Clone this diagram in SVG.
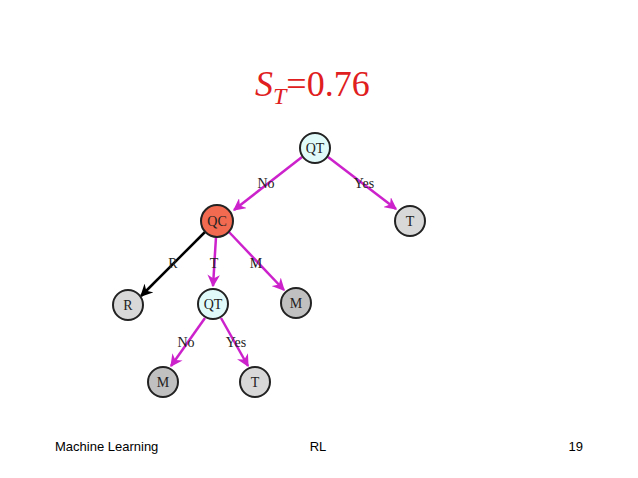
<svg xmlns="http://www.w3.org/2000/svg" width="638" height="478" viewBox="0 0 638 478">
<style>
.n circle{stroke:#222;stroke-width:2}
.n text,.l{font-family:"Liberation Serif",serif;font-size:14px;text-anchor:middle;fill:#222}
.e{stroke:#cc22cc;stroke-width:2.5;fill:none;marker-end:url(#m)}
.f{font-family:"Liberation Sans",sans-serif;font-size:13px;fill:#000}
</style>
<defs>
<marker id="m" viewBox="0 0 10 10" refX="9" refY="5" markerWidth="5" markerHeight="5" orient="auto" markerUnits="strokeWidth"><path d="M0,0L10,5L0,10L3,5z" fill="#cc22cc"/></marker>
<marker id="k" viewBox="0 0 10 10" refX="9" refY="5" markerWidth="5" markerHeight="5" orient="auto" markerUnits="strokeWidth"><path d="M0,0L10,5L0,10L3,5z" fill="#000"/></marker>
</defs>
<rect width="638" height="478" fill="#fff"/>
<text x="255" y="96" font-family="Liberation Serif,serif" font-size="36" fill="#e02020"><tspan font-style="italic">S</tspan><tspan font-style="italic" font-size="24" dy="8">T</tspan><tspan dy="-8">=0.76</tspan></text>
<g id="connectors">
<line class="e" x1="302" y1="157" x2="234" y2="210"/>
<line class="e" x1="328" y1="157" x2="396" y2="209"/>
<line x1="205" y1="232" x2="141" y2="296" stroke="#000" stroke-width="2.5" marker-end="url(#k)"/>
<line class="e" x1="216" y1="237" x2="213" y2="286"/>
<line class="e" x1="229" y1="232" x2="284" y2="290"/>
<line class="e" x1="205" y1="318" x2="171" y2="366"/>
<line class="e" x1="221" y1="318" x2="248" y2="366"/>
<text class="l" x="266" y="188">No</text>
<text class="l" x="364" y="188">Yes</text>
<text class="l" x="173" y="268">R</text>
<text class="l" x="214" y="268">T</text>
<text class="l" x="256" y="268">M</text>
<text class="l" x="186" y="347">No</text>
<text class="l" x="236" y="347">Yes</text>
</g>
<g id="qt1" class="n"><circle cx="315" cy="148" r="15" fill="#e0fafa"/><text x="315" y="153">QT</text></g>
<g id="t1" class="n"><circle cx="410" cy="221" r="15" fill="#d8d8d8"/><text x="410" y="226">T</text></g>
<g id="qc" class="n"><circle cx="217" cy="221" r="16" fill="#f26a4f"/><text x="217" y="226">QC</text></g>
<g id="r" class="n"><circle cx="128" cy="305" r="15" fill="#d8d8d8"/><text x="128" y="310">R</text></g>
<g id="qt2" class="n"><circle cx="213" cy="304" r="15" fill="#e0fafa"/><text x="213" y="309">QT</text></g>
<g id="m1" class="n"><circle cx="296" cy="303" r="15" fill="#c0c0c0"/><text x="296" y="308">M</text></g>
<g id="m2" class="n"><circle cx="163" cy="382" r="15" fill="#c0c0c0"/><text x="163" y="387">M</text></g>
<g id="t2" class="n"><circle cx="255" cy="382" r="15" fill="#d8d8d8"/><text x="255" y="387">T</text></g>
<text class="f" x="55" y="451">Machine Learning</text>
<text class="f" x="318" y="451" text-anchor="middle">RL</text>
<text class="f" x="583" y="451" text-anchor="end">19</text>
</svg>
